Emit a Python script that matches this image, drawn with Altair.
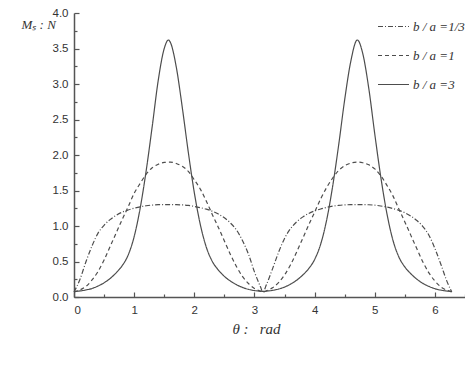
import altair as alt
import pandas as pd

theta = [0.0, 0.1, 0.2, 0.3, 0.4, 0.5, 0.6, 0.7, 0.8, 0.9, 1.0, 1.1, 1.2, 1.3, 1.4, 1.5,
         1.57,
         1.6, 1.7, 1.8, 1.9, 2.0, 2.1, 2.2, 2.3, 2.4, 2.5, 2.6, 2.7, 2.8, 2.9, 3.0, 3.1,
         3.14,
         3.2, 3.3, 3.4, 3.5, 3.6, 3.7, 3.8, 3.9, 4.0, 4.1, 4.2, 4.3, 4.4, 4.5, 4.6,
         4.71,
         4.8, 4.9, 5.0, 5.1, 5.2, 5.3, 5.4, 5.5, 5.6, 5.7, 5.8, 5.9, 6.0, 6.1, 6.2,
         6.28]

ms_ba3 = [0.08, 0.085, 0.10, 0.12, 0.155, 0.20, 0.26, 0.34, 0.44, 0.59, 0.85, 1.25, 1.78, 2.40, 3.05, 3.50,
          3.62,
          3.59, 3.24, 2.67, 2.04, 1.47, 1.02, 0.70, 0.50, 0.38, 0.29, 0.225, 0.174, 0.135, 0.108, 0.091, 0.082,
          0.08,
          0.083, 0.094, 0.112, 0.140, 0.181, 0.235, 0.307, 0.398, 0.528, 0.742, 1.084, 1.560, 2.142, 2.780, 3.313,
          3.62,
          3.43, 2.941, 2.296, 1.691, 1.183, 0.806, 0.565, 0.423, 0.327, 0.250, 0.192, 0.149, 0.117, 0.097, 0.084,
          0.08]

ms_ba1 = [0.07, 0.10, 0.15, 0.24, 0.36, 0.52, 0.71, 0.90, 1.09, 1.27, 1.46, 1.60, 1.73, 1.82, 1.87, 1.895,
          1.90,
          1.90, 1.88, 1.84, 1.77, 1.65, 1.52, 1.35, 1.16, 0.98, 0.79, 0.60, 0.43, 0.29, 0.19, 0.12, 0.08,
          0.07,
          0.088, 0.129, 0.203, 0.310, 0.453, 0.631, 0.821, 1.011, 1.195, 1.381, 1.542, 1.676, 1.783, 1.849, 1.885,
          1.90,
          1.891, 1.862, 1.805, 1.708, 1.576, 1.428, 1.240, 1.058, 0.868, 0.678, 0.493, 0.340, 0.225, 0.142, 0.095,
          0.07]

ms_ba13 = [0.07, 0.25, 0.50, 0.72, 0.90, 1.01, 1.09, 1.15, 1.195, 1.225, 1.25, 1.27, 1.285, 1.295, 1.30, 1.30,
           1.30,
           1.30, 1.30, 1.297, 1.29, 1.276, 1.258, 1.237, 1.208, 1.169, 1.115, 1.043, 0.946, 0.795, 0.604, 0.354, 0.144,
           0.07,
           0.175, 0.396, 0.628, 0.825, 0.964, 1.057, 1.125, 1.176, 1.213, 1.240, 1.262, 1.279, 1.291, 1.298, 1.30,
           1.30,
           1.30, 1.299, 1.293, 1.282, 1.267, 1.246, 1.220, 1.187, 1.140, 1.077, 0.992, 0.870, 0.683, 0.458, 0.220,
           0.07]

labels = ["b / a =1/3", "b / a =1", "b / a =3"]
x_ticks_major = [0, 1, 2, 3, 4, 5, 6]
x_ticks_all = [0, 0.5, 1, 1.5, 2, 2.5, 3, 3.5, 4, 4.5, 5, 5.5, 6, 6.5]
y_ticks_major = [0, 0.5, 1.0, 1.5, 2.0, 2.5, 3.0, 3.5, 4.0]
y_ticks_all = [0, 0.25, 0.5, 0.75, 1.0, 1.25, 1.5, 1.75, 2.0, 2.25, 2.5, 2.75,
               3.0, 3.25, 3.5, 3.75, 4.0]

rows = []
for lab, vals in zip(labels, [ms_ba13, ms_ba1, ms_ba3]):
    for t, v in zip(theta, vals):
        rows.append({"theta": t, "ms": v, "series": lab})
df = pd.DataFrame(rows)

W, H = 391, 284
serif = "Liberation Serif"
sans = "Liberation Sans"
ink = "#4d4d4d"
axc = "#555555"

xscale = alt.Scale(domain=[0, 6.5], nice=False, zero=False)
yscale = alt.Scale(domain=[0, 4], nice=False)

lines = alt.Chart(df).mark_line(color=ink, strokeWidth=1.2, interpolate="monotone").encode(
    x=alt.X("theta:Q", scale=xscale, axis=alt.Axis(
        values=x_ticks_major, format="d", tickSize=0, labelPadding=7,
        domainColor=axc, domainWidth=1.5, grid=False,
        labelFont=sans, labelFontSize=11.5, labelColor="#333",
        title="θ :\u00a0\u00a0 rad", titleFont=serif, titleFontStyle="italic", titleFontWeight="normal",
        titleFontSize=15, titleColor="#333", titleX=182, titleY=36,
        titleAlign="center", titleBaseline="alphabetic")),
    y=alt.Y("ms:Q", scale=yscale, axis=alt.Axis(
        values=y_ticks_major, format=".1f", tickSize=0, labelPadding=6,
        domainColor=axc, domainWidth=1.5, grid=False,
        labelFont=sans, labelFontSize=11.5, labelColor="#333",
        title="Mₛ : N", titleFont=serif, titleFontStyle="italic", titleFontWeight="normal",
        titleFontSize=13, titleColor="#333", titleAngle=0, titleX=-53, titleY=15,
        titleAlign="left", titleBaseline="alphabetic")),
    strokeDash=alt.StrokeDash("series:N",
        scale=alt.Scale(domain=labels, range=[[5, 2, 1, 2], [4, 3], [1, 0]]),
        sort=labels,
        legend=alt.Legend(title=None, orient="none", legendX=303, legendY=-3,
                          symbolType="stroke", symbolSize=961, symbolStrokeWidth=1.2,
                          symbolStrokeColor=ink, labelFont=serif, labelFontStyle="italic",
                          labelFontSize=13, labelColor="#333", labelOffset=3,
                          rowPadding=5, padding=0)),
)

ticks = alt.Chart(df).mark_line(opacity=0).encode(
    x=alt.X("theta:Q", scale=xscale, axis=alt.Axis(
        orient="top", offset=-H, values=x_ticks_all, labels=False, domain=False,
        grid=False, title=None, tickColor=axc, tickWidth=1.2,
        tickSize={"condition": {"test": "datum.value % 1 === 0", "value": 5}, "value": 3})),
    y=alt.Y("ms:Q", scale=yscale, axis=alt.Axis(
        orient="right", offset=-W, values=y_ticks_all, labels=False, domain=False,
        grid=False, title=None, tickColor=axc, tickWidth=1.2,
        tickSize={"condition": {"test": "datum.value % 0.5 === 0", "value": 5}, "value": 3})),
)

chart = alt.layer(lines, ticks).resolve_axis(
    x="independent", y="independent"
).properties(
    width=W, height=H,
    autosize=alt.AutoSizeParams(type="none"),
    padding={"left": 66, "top": 5, "right": 0, "bottom": 60},
).configure_view(strokeWidth=0)

chart.save("out.html", embed_options={"renderer": "svg", "actions": False})
